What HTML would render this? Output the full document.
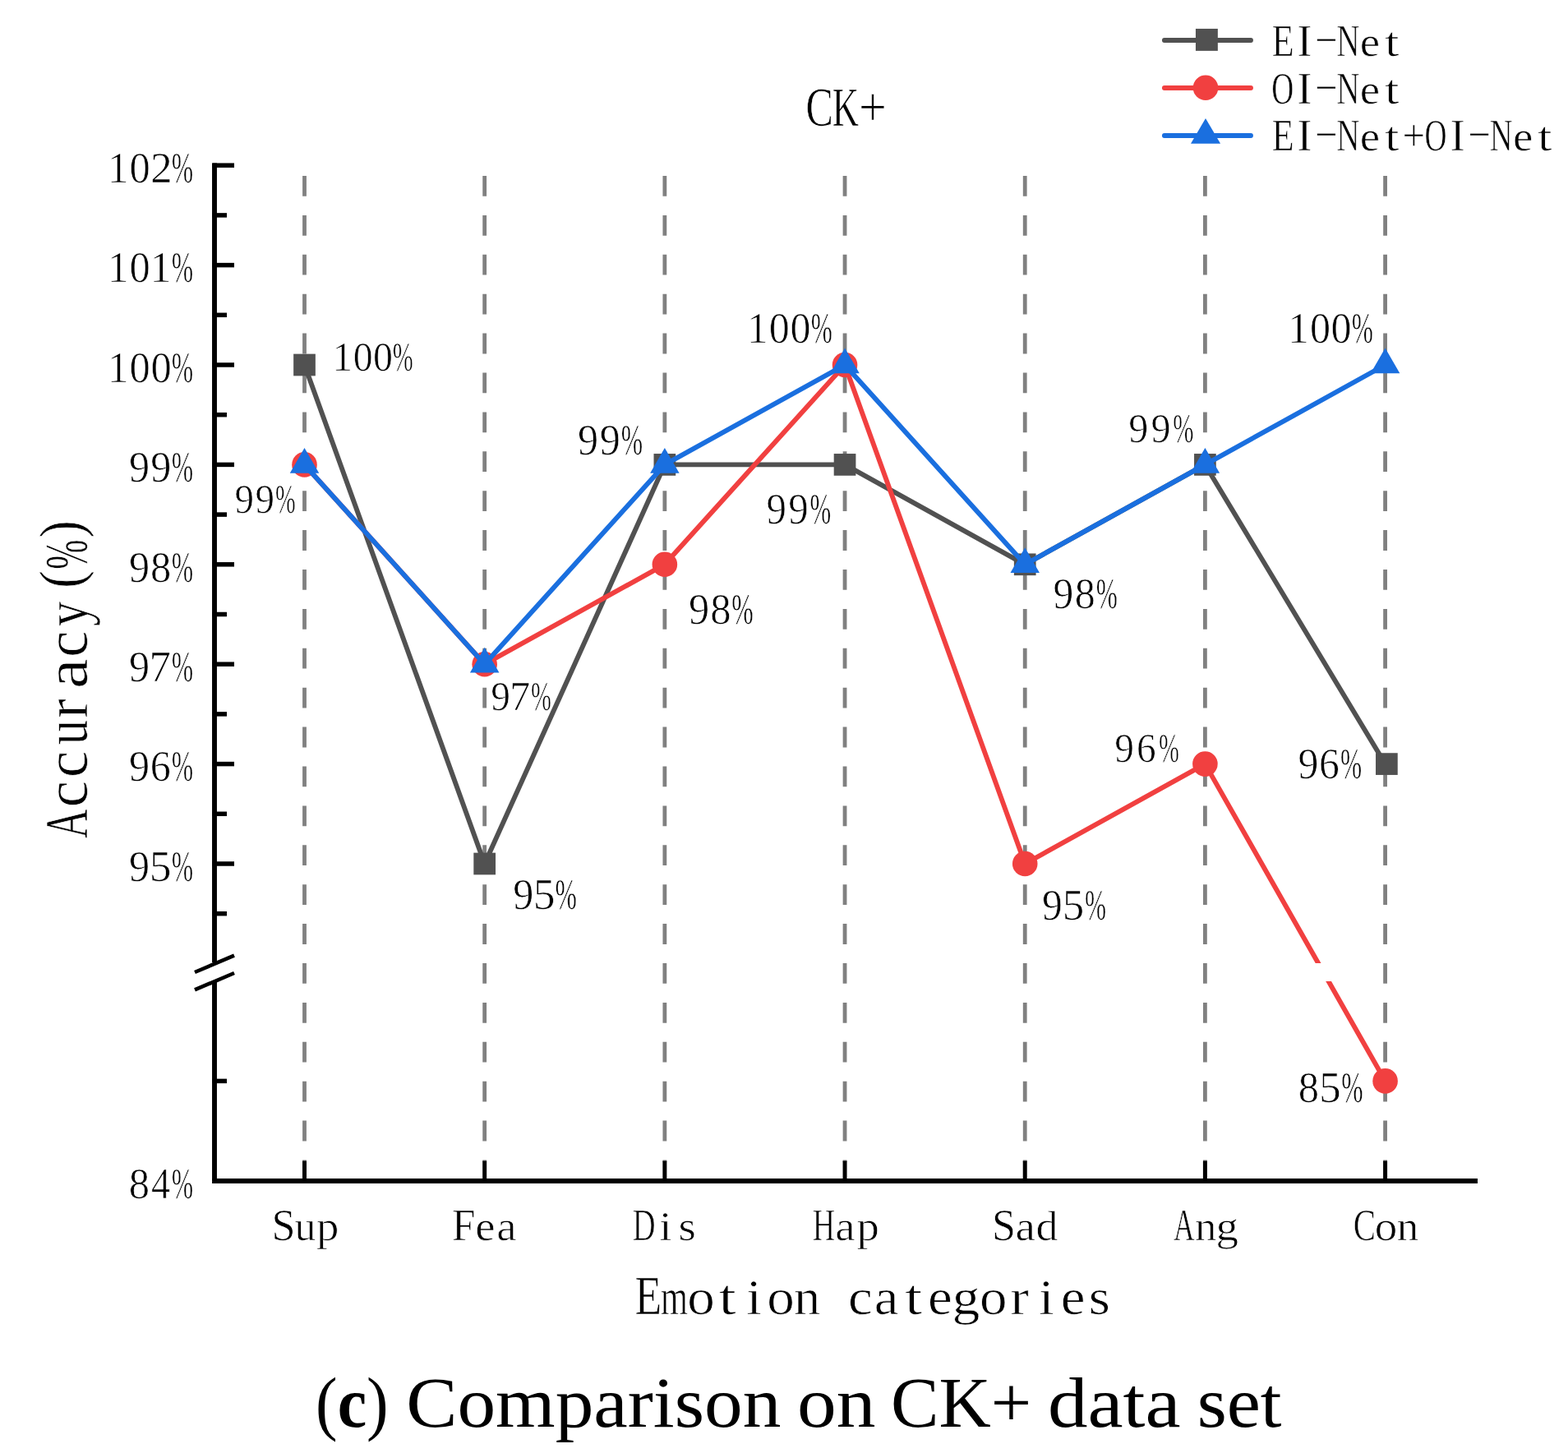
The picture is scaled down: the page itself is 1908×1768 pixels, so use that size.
<!DOCTYPE html><html><head><meta charset="utf-8"><title>Comparison on CK+ data set</title>
<style>html,body{margin:0;padding:0;background:#fff;}svg{display:block;}text{font-family:"Liberation Serif","Noto Serif CJK SC",serif;fill:#000;}text.t{stroke:#fff;stroke-width:0.7px;}</style></head><body>
<svg width="1908" height="1768" viewBox="0 0 1908 1768">
<rect width="1908" height="1768" fill="#fff"/>
<line x1="370.5" y1="214" x2="370.5" y2="1414" stroke="#808080" stroke-width="4.8" stroke-dasharray="24.8 23.1"/>
<line x1="589.68" y1="214" x2="589.68" y2="1414" stroke="#808080" stroke-width="4.8" stroke-dasharray="24.8 23.1"/>
<line x1="808.86" y1="214" x2="808.86" y2="1414" stroke="#808080" stroke-width="4.8" stroke-dasharray="24.8 23.1"/>
<line x1="1028.04" y1="214" x2="1028.04" y2="1414" stroke="#808080" stroke-width="4.8" stroke-dasharray="24.8 23.1"/>
<line x1="1247.22" y1="214" x2="1247.22" y2="1414" stroke="#808080" stroke-width="4.8" stroke-dasharray="24.8 23.1"/>
<line x1="1466.4" y1="214" x2="1466.4" y2="1414" stroke="#808080" stroke-width="4.8" stroke-dasharray="24.8 23.1"/>
<line x1="1685.58" y1="214" x2="1685.58" y2="1414" stroke="#808080" stroke-width="4.8" stroke-dasharray="24.8 23.1"/>
<g stroke="#000" stroke-width="5.9" fill="none">
<line x1="261" y1="198.4" x2="261" y2="1171"/>
<line x1="261" y1="1193" x2="261" y2="1437"/>
<line x1="258.05" y1="1437" x2="1798" y2="1437"/>
</g>
<g stroke="#000" stroke-width="5.5">
<line x1="258.5" y1="1051" x2="285" y2="1051"/>
<line x1="258.5" y1="929.6" x2="285" y2="929.6"/>
<line x1="258.5" y1="808.2" x2="285" y2="808.2"/>
<line x1="258.5" y1="686.8" x2="285" y2="686.8"/>
<line x1="258.5" y1="565.4" x2="285" y2="565.4"/>
<line x1="258.5" y1="444" x2="285" y2="444"/>
<line x1="258.5" y1="322.6" x2="285" y2="322.6"/>
<line x1="258.5" y1="201.2" x2="285" y2="201.2"/>
<line x1="258.5" y1="261.9" x2="276" y2="261.9"/>
<line x1="258.5" y1="383.3" x2="276" y2="383.3"/>
<line x1="258.5" y1="504.7" x2="276" y2="504.7"/>
<line x1="258.5" y1="626.1" x2="276" y2="626.1"/>
<line x1="258.5" y1="747.5" x2="276" y2="747.5"/>
<line x1="258.5" y1="868.9" x2="276" y2="868.9"/>
<line x1="258.5" y1="990.3" x2="276" y2="990.3"/>
<line x1="258.5" y1="1111.7" x2="276" y2="1111.7"/>
<line x1="258.5" y1="1315.4" x2="276" y2="1315.4"/>
</g>
<g stroke="#000" stroke-width="5">
<line x1="370.5" y1="1412.6" x2="370.5" y2="1437"/>
<line x1="589.68" y1="1412.6" x2="589.68" y2="1437"/>
<line x1="808.86" y1="1412.6" x2="808.86" y2="1437"/>
<line x1="1028.04" y1="1412.6" x2="1028.04" y2="1437"/>
<line x1="1247.22" y1="1412.6" x2="1247.22" y2="1437"/>
<line x1="1466.4" y1="1412.6" x2="1466.4" y2="1437"/>
<line x1="1685.58" y1="1412.6" x2="1685.58" y2="1437"/>
</g>
<g stroke="#000" stroke-width="4.6">
<line x1="237" y1="1183" x2="285" y2="1162.6"/>
<line x1="237" y1="1204.4" x2="285" y2="1184"/>
</g>
<polyline points="370.5,444 589.68,1051 808.86,565.4 1028.04,565.4 1247.22,686.8 1466.4,565.4 1685.58,929.6" fill="none" stroke="#515151" stroke-width="5.9" stroke-linejoin="round" stroke-linecap="round"/>
<rect x="357.15" y="430.65" width="26.7" height="26.7" fill="#515151"/>
<rect x="576.33" y="1037.65" width="26.7" height="26.7" fill="#515151"/>
<rect x="795.51" y="552.05" width="26.7" height="26.7" fill="#515151"/>
<rect x="1014.69" y="552.05" width="26.7" height="26.7" fill="#515151"/>
<rect x="1233.87" y="673.45" width="26.7" height="26.7" fill="#515151"/>
<rect x="1453.05" y="552.05" width="26.7" height="26.7" fill="#515151"/>
<rect x="1674.03" y="916.25" width="26.7" height="26.7" fill="#515151"/>
<polyline points="370.5,565.4 589.68,808.2 808.86,686.8 1028.04,444 1247.22,1051 1466.4,929.6" fill="none" stroke="#F14040" stroke-width="5.9" stroke-linejoin="round" stroke-linecap="round"/>
<clipPath id="gap"><rect x="0" y="0" width="1908" height="1172"/><rect x="0" y="1194" width="1908" height="600"/></clipPath>
<line x1="1466.4" y1="929.6" x2="1685.58" y2="1315.4" stroke="#F14040" stroke-width="5.9" stroke-linecap="round" clip-path="url(#gap)"/>
<circle cx="370.5" cy="565.4" r="15.3" fill="#F14040"/>
<circle cx="589.68" cy="808.2" r="15.3" fill="#F14040"/>
<circle cx="808.86" cy="686.8" r="15.3" fill="#F14040"/>
<circle cx="1028.04" cy="444" r="15.3" fill="#F14040"/>
<circle cx="1247.22" cy="1051" r="15.3" fill="#F14040"/>
<circle cx="1466.4" cy="929.6" r="15.3" fill="#F14040"/>
<circle cx="1685.58" cy="1315.4" r="15.3" fill="#F14040"/>
<polyline points="370.5,565.4 589.68,808.2 808.86,565.4 1028.04,444 1247.22,686.8 1466.4,565.4 1685.58,444" fill="none" stroke="#1A6FDF" stroke-width="5.9" stroke-linejoin="round" stroke-linecap="round"/>
<polygon points="370.5,544.9 352.75,575.65 388.25,575.65" fill="#1A6FDF"/>
<polygon points="589.68,787.7 571.93,818.45 607.43,818.45" fill="#1A6FDF"/>
<polygon points="808.86,544.9 791.11,575.65 826.61,575.65" fill="#1A6FDF"/>
<polygon points="1028.04,423.5 1010.29,454.25 1045.79,454.25" fill="#1A6FDF"/>
<polygon points="1247.22,666.3 1229.47,697.05 1264.97,697.05" fill="#1A6FDF"/>
<polygon points="1466.4,544.9 1448.65,575.65 1484.15,575.65" fill="#1A6FDF"/>
<polygon points="1685.58,423.5 1667.83,454.25 1703.33,454.25" fill="#1A6FDF"/>
<text class="t" y="1071.87" font-size="53.57"><tspan x="157.08" y="1071.87" textLength="25.11" lengthAdjust="spacingAndGlyphs">9</tspan><tspan x="181.85" y="1071.87">5</tspan><tspan x="208.71" y="1071.87" textLength="26.37" lengthAdjust="spacingAndGlyphs">%</tspan></text>
<text class="t" y="950.47" font-size="53.57"><tspan x="157.08" y="950.47" textLength="25.11" lengthAdjust="spacingAndGlyphs">9</tspan><tspan x="182.79" y="950.47" textLength="25.08" lengthAdjust="spacingAndGlyphs">6</tspan><tspan x="208.71" y="950.47" textLength="26.37" lengthAdjust="spacingAndGlyphs">%</tspan></text>
<text class="t" y="829.07" font-size="53.57"><tspan x="157.08" y="829.07" textLength="25.11" lengthAdjust="spacingAndGlyphs">9</tspan><tspan x="181.45" y="829.07" textLength="26.44" lengthAdjust="spacingAndGlyphs">7</tspan><tspan x="208.71" y="829.07" textLength="26.37" lengthAdjust="spacingAndGlyphs">%</tspan></text>
<text class="t" y="707.67" font-size="53.57"><tspan x="157.08" y="707.67" textLength="25.11" lengthAdjust="spacingAndGlyphs">9</tspan><tspan x="183.01" y="707.67" textLength="25.28" lengthAdjust="spacingAndGlyphs">8</tspan><tspan x="208.71" y="707.67" textLength="26.37" lengthAdjust="spacingAndGlyphs">%</tspan></text>
<text class="t" y="586.27" font-size="53.57"><tspan x="157.08" y="586.27" textLength="25.11" lengthAdjust="spacingAndGlyphs">9</tspan><tspan x="183.32" y="586.27" textLength="25.11" lengthAdjust="spacingAndGlyphs">9</tspan><tspan x="208.71" y="586.27" textLength="26.37" lengthAdjust="spacingAndGlyphs">%</tspan></text>
<text class="t" y="464.87" font-size="53.57"><tspan x="130.75" y="464.87" textLength="25.87" lengthAdjust="spacingAndGlyphs">1</tspan><tspan x="157.6" y="464.87" textLength="25.28" lengthAdjust="spacingAndGlyphs">0</tspan><tspan x="183.43" y="464.87" textLength="25.28" lengthAdjust="spacingAndGlyphs">0</tspan><tspan x="208.71" y="464.87" textLength="26.37" lengthAdjust="spacingAndGlyphs">%</tspan></text>
<text class="t" y="343.47" font-size="53.57"><tspan x="130.75" y="343.47" textLength="25.87" lengthAdjust="spacingAndGlyphs">1</tspan><tspan x="157.6" y="343.47" textLength="25.28" lengthAdjust="spacingAndGlyphs">0</tspan><tspan x="182.41" y="343.47" textLength="25.87" lengthAdjust="spacingAndGlyphs">1</tspan><tspan x="208.71" y="343.47" textLength="26.37" lengthAdjust="spacingAndGlyphs">%</tspan></text>
<text class="t" y="222.07" font-size="53.57"><tspan x="130.75" y="222.07" textLength="25.87" lengthAdjust="spacingAndGlyphs">1</tspan><tspan x="157.6" y="222.07" textLength="25.28" lengthAdjust="spacingAndGlyphs">0</tspan><tspan x="183" y="222.07">2</tspan><tspan x="208.71" y="222.07" textLength="26.37" lengthAdjust="spacingAndGlyphs">%</tspan></text>
<text class="t" y="1457.87" font-size="53.57"><tspan x="156.77" y="1457.87" textLength="25.28" lengthAdjust="spacingAndGlyphs">8</tspan><tspan x="184.04" y="1457.87" textLength="23.05" lengthAdjust="spacingAndGlyphs">4</tspan><tspan x="208.71" y="1457.87" textLength="26.37" lengthAdjust="spacingAndGlyphs">%</tspan></text>
<text class="t" y="450.59" font-size="50.74"><tspan x="404.49" y="450.59" textLength="24.5" lengthAdjust="spacingAndGlyphs">1</tspan><tspan x="429.76" y="450.59" textLength="23.95" lengthAdjust="spacingAndGlyphs">0</tspan><tspan x="454.06" y="450.59" textLength="23.95" lengthAdjust="spacingAndGlyphs">0</tspan><tspan x="477.84" y="450.59" textLength="24.98" lengthAdjust="spacingAndGlyphs">%</tspan></text>
<text class="t" y="624.1" font-size="50.15"><tspan x="285.49" y="624.1" textLength="23.5" lengthAdjust="spacingAndGlyphs">9</tspan><tspan x="310.6" y="624.1" textLength="23.5" lengthAdjust="spacingAndGlyphs">9</tspan><tspan x="334.92" y="624.1" textLength="24.69" lengthAdjust="spacingAndGlyphs">%</tspan></text>
<text class="t" y="1106.37" font-size="53.57"><tspan x="624.18" y="1106.37" textLength="25.11" lengthAdjust="spacingAndGlyphs">9</tspan><tspan x="648.85" y="1106.37">5</tspan><tspan x="675.61" y="1106.37" textLength="26.37" lengthAdjust="spacingAndGlyphs">%</tspan></text>
<text class="t" y="864.3" font-size="50.6"><tspan x="597.17" y="864.3" textLength="23.71" lengthAdjust="spacingAndGlyphs">9</tspan><tspan x="620.23" y="864.3" textLength="24.97" lengthAdjust="spacingAndGlyphs">7</tspan><tspan x="646.01" y="864.3" textLength="24.91" lengthAdjust="spacingAndGlyphs">%</tspan></text>
<text class="t" y="552.67" font-size="53.57"><tspan x="702.98" y="552.67" textLength="25.11" lengthAdjust="spacingAndGlyphs">9</tspan><tspan x="729.82" y="552.67" textLength="25.11" lengthAdjust="spacingAndGlyphs">9</tspan><tspan x="755.81" y="552.67" textLength="26.37" lengthAdjust="spacingAndGlyphs">%</tspan></text>
<text class="t" y="759.37" font-size="53.72"><tspan x="838.08" y="759.37" textLength="25.18" lengthAdjust="spacingAndGlyphs">9</tspan><tspan x="864.33" y="759.37" textLength="25.35" lengthAdjust="spacingAndGlyphs">8</tspan><tspan x="890.34" y="759.37" textLength="26.45" lengthAdjust="spacingAndGlyphs">%</tspan></text>
<text class="t" y="417.08" font-size="52.98"><tspan x="909" y="417.08" textLength="25.58" lengthAdjust="spacingAndGlyphs">1</tspan><tspan x="935.75" y="417.08" textLength="25" lengthAdjust="spacingAndGlyphs">0</tspan><tspan x="961.49" y="417.08" textLength="25" lengthAdjust="spacingAndGlyphs">0</tspan><tspan x="986.69" y="417.08" textLength="26.08" lengthAdjust="spacingAndGlyphs">%</tspan></text>
<text class="t" y="637.28" font-size="52.23"><tspan x="932.42" y="637.28" textLength="24.48" lengthAdjust="spacingAndGlyphs">9</tspan><tspan x="959.35" y="637.28" textLength="24.48" lengthAdjust="spacingAndGlyphs">9</tspan><tspan x="985.44" y="637.28" textLength="25.72" lengthAdjust="spacingAndGlyphs">%</tspan></text>
<text class="t" y="740.48" font-size="52.98"><tspan x="1281.5" y="740.48" textLength="24.83" lengthAdjust="spacingAndGlyphs">9</tspan><tspan x="1307.76" y="740.48" textLength="25" lengthAdjust="spacingAndGlyphs">8</tspan><tspan x="1333.79" y="740.48" textLength="26.08" lengthAdjust="spacingAndGlyphs">%</tspan></text>
<text class="t" y="1119.38" font-size="52.98"><tspan x="1267.9" y="1119.38" textLength="24.83" lengthAdjust="spacingAndGlyphs">9</tspan><tspan x="1292.86" y="1119.38">5</tspan><tspan x="1319.89" y="1119.38" textLength="26.08" lengthAdjust="spacingAndGlyphs">%</tspan></text>
<text class="t" y="537.99" font-size="51.34"><tspan x="1373.25" y="537.99" textLength="24.06" lengthAdjust="spacingAndGlyphs">9</tspan><tspan x="1400.61" y="537.99" textLength="24.06" lengthAdjust="spacingAndGlyphs">9</tspan><tspan x="1427.16" y="537.99" textLength="25.28" lengthAdjust="spacingAndGlyphs">%</tspan></text>
<text class="t" y="926.6" font-size="50.6"><tspan x="1356.17" y="926.6" textLength="23.71" lengthAdjust="spacingAndGlyphs">9</tspan><tspan x="1382.94" y="926.6" textLength="23.68" lengthAdjust="spacingAndGlyphs">6</tspan><tspan x="1409.91" y="926.6" textLength="24.91" lengthAdjust="spacingAndGlyphs">%</tspan></text>
<text class="t" y="417.07" font-size="53.12"><tspan x="1567.29" y="417.07" textLength="25.65" lengthAdjust="spacingAndGlyphs">1</tspan><tspan x="1593.95" y="417.07" textLength="25.07" lengthAdjust="spacingAndGlyphs">0</tspan><tspan x="1619.61" y="417.07" textLength="25.07" lengthAdjust="spacingAndGlyphs">0</tspan><tspan x="1644.72" y="417.07" textLength="26.15" lengthAdjust="spacingAndGlyphs">%</tspan></text>
<text class="t" y="947.28" font-size="53.13"><tspan x="1579.4" y="947.28" textLength="24.9" lengthAdjust="spacingAndGlyphs">9</tspan><tspan x="1605.05" y="947.28" textLength="24.87" lengthAdjust="spacingAndGlyphs">6</tspan><tspan x="1630.92" y="947.28" textLength="26.15" lengthAdjust="spacingAndGlyphs">%</tspan></text>
<text class="t" y="1341.47" font-size="53.57"><tspan x="1579.67" y="1341.47" textLength="25.28" lengthAdjust="spacingAndGlyphs">8</tspan><tspan x="1605.1" y="1341.47">5</tspan><tspan x="1632.31" y="1341.47" textLength="26.37" lengthAdjust="spacingAndGlyphs">%</tspan></text>
<text class="t" y="1509.3" font-size="55"><tspan x="330.38" y="1509.3" textLength="28.98" lengthAdjust="spacingAndGlyphs">S</tspan><tspan x="358.63" y="1509.3" font-size="51.15" textLength="25.95" lengthAdjust="spacingAndGlyphs">u</tspan><tspan x="384.93" y="1509.3" font-size="51.15" textLength="27.4" lengthAdjust="spacingAndGlyphs">p</tspan></text>
<text class="t" y="1509.3" font-size="55"><tspan x="550.12" y="1509.3" textLength="28.5" lengthAdjust="spacingAndGlyphs">F</tspan><tspan x="578.35" y="1509.3" font-size="51.15" textLength="24.41" lengthAdjust="spacingAndGlyphs">e</tspan><tspan x="604.38" y="1509.3" font-size="51.15" textLength="24.41" lengthAdjust="spacingAndGlyphs">a</tspan></text>
<text class="t" y="1509.3" font-size="55"><tspan x="769.66" y="1509.3" textLength="27.83" lengthAdjust="spacingAndGlyphs">D</tspan><tspan x="802.17" y="1509.3" font-size="51.15" textLength="15.28" lengthAdjust="spacingAndGlyphs">i</tspan><tspan x="825.52" y="1509.3" font-size="51.15" textLength="21.4" lengthAdjust="spacingAndGlyphs">s</tspan></text>
<text class="t" y="1509.3" font-size="55"><tspan x="988.86" y="1509.3" textLength="27.38" lengthAdjust="spacingAndGlyphs">H</tspan><tspan x="1016.24" y="1509.3" font-size="51.15" textLength="24.41" lengthAdjust="spacingAndGlyphs">a</tspan><tspan x="1042.47" y="1509.3" font-size="51.15" textLength="27.4" lengthAdjust="spacingAndGlyphs">p</tspan></text>
<text class="t" y="1509.3" font-size="55"><tspan x="1207.1" y="1509.3" textLength="28.98" lengthAdjust="spacingAndGlyphs">S</tspan><tspan x="1235.42" y="1509.3" font-size="51.15" textLength="24.41" lengthAdjust="spacingAndGlyphs">a</tspan><tspan x="1260.58" y="1509.3" font-size="51.15" textLength="26.99" lengthAdjust="spacingAndGlyphs">d</tspan></text>
<text class="t" y="1509.3" font-size="55"><tspan x="1428.1" y="1509.3" textLength="25.51" lengthAdjust="spacingAndGlyphs">A</tspan><tspan x="1454" y="1509.3" font-size="51.15" textLength="26.39" lengthAdjust="spacingAndGlyphs">n</tspan><tspan x="1479.49" y="1509.3" font-size="51.15" textLength="27.5" lengthAdjust="spacingAndGlyphs">g</tspan></text>
<text class="t" y="1509.3" font-size="55"><tspan x="1646.74" y="1509.3" textLength="27.25" lengthAdjust="spacingAndGlyphs">C</tspan><tspan x="1672.83" y="1509.3" font-size="51.15" textLength="27.5" lengthAdjust="spacingAndGlyphs">o</tspan><tspan x="1699.68" y="1509.3" font-size="51.15" textLength="26.39" lengthAdjust="spacingAndGlyphs">n</tspan></text>
<text class="t" y="1598.8" font-size="67"><tspan x="772.53" y="1598.8" textLength="32.66" lengthAdjust="spacingAndGlyphs">E</tspan><tspan x="804.07" y="1598.8" font-size="62.31" textLength="32.92" lengthAdjust="spacingAndGlyphs">m</tspan><tspan x="836.23" y="1598.8" font-size="62.31" textLength="33.5" lengthAdjust="spacingAndGlyphs">o</tspan><tspan x="874.55" y="1598.8" font-size="62.31" textLength="21.25" lengthAdjust="spacingAndGlyphs">t</tspan><tspan x="908.29" y="1598.8" font-size="62.31" textLength="18.61" lengthAdjust="spacingAndGlyphs">i</tspan><tspan x="933.25" y="1598.8" font-size="62.31" textLength="33.5" lengthAdjust="spacingAndGlyphs">o</tspan><tspan x="965.99" y="1598.8" font-size="62.31" textLength="32.21" lengthAdjust="spacingAndGlyphs">n</tspan><tspan x="1006.3" y="1598.8"> </tspan><tspan x="1031.91" y="1598.8" font-size="62.31" textLength="29.74" lengthAdjust="spacingAndGlyphs">c</tspan><tspan x="1063.77" y="1598.8" font-size="62.31" textLength="29.74" lengthAdjust="spacingAndGlyphs">a</tspan><tspan x="1100.93" y="1598.8" font-size="62.31" textLength="21.25" lengthAdjust="spacingAndGlyphs">t</tspan><tspan x="1129.02" y="1598.8" font-size="62.31" textLength="29.74" lengthAdjust="spacingAndGlyphs">e</tspan><tspan x="1158.83" y="1598.8" font-size="62.31" textLength="33.5" lengthAdjust="spacingAndGlyphs">g</tspan><tspan x="1191.97" y="1598.8" font-size="62.31" textLength="33.5" lengthAdjust="spacingAndGlyphs">o</tspan><tspan x="1229.53" y="1598.8" font-size="62.31" textLength="22.31" lengthAdjust="spacingAndGlyphs">r</tspan><tspan x="1264.03" y="1598.8" font-size="62.31" textLength="18.61" lengthAdjust="spacingAndGlyphs">i</tspan><tspan x="1290.72" y="1598.8" font-size="62.31" textLength="29.74" lengthAdjust="spacingAndGlyphs">e</tspan><tspan x="1324.88" y="1598.8" font-size="62.31" textLength="26.07" lengthAdjust="spacingAndGlyphs">s</tspan></text>
<text class="t" y="152.6" font-size="66.7"><tspan x="980.54" y="152.6" textLength="33.42" lengthAdjust="spacingAndGlyphs">C</tspan><tspan x="1012.84" y="152.6" textLength="32.3" lengthAdjust="spacingAndGlyphs">K</tspan><tspan x="1044.93" y="152.6" textLength="33.87" lengthAdjust="spacingAndGlyphs">+</tspan></text>
<g transform="rotate(-90)"><text class="t" y="106" font-size="75"><tspan x="-1020.03" y="106" textLength="35.34" lengthAdjust="spacingAndGlyphs">A</tspan><tspan x="-982.54" y="106" textLength="32.55" lengthAdjust="spacingAndGlyphs">c</tspan><tspan x="-946.14" y="106" textLength="32.55" lengthAdjust="spacingAndGlyphs">c</tspan><tspan x="-906.35" y="106" textLength="30.34" lengthAdjust="spacingAndGlyphs">u</tspan><tspan x="-873.71" y="106" textLength="23.43" lengthAdjust="spacingAndGlyphs">r</tspan><tspan x="-838.1" y="106" textLength="36.63" lengthAdjust="spacingAndGlyphs">a</tspan><tspan x="-799.8" y="106" textLength="32.08" lengthAdjust="spacingAndGlyphs">c</tspan><tspan x="-761.94" y="106" textLength="30.17" lengthAdjust="spacingAndGlyphs">y</tspan><tspan x="-734.38" y="106"> </tspan><tspan x="-715.91" y="98.5" textLength="22.04" lengthAdjust="spacingAndGlyphs">(</tspan><tspan x="-692.84" y="106" textLength="36.28" lengthAdjust="spacingAndGlyphs">%</tspan><tspan x="-654.68" y="98.5" textLength="21.52" lengthAdjust="spacingAndGlyphs">)</tspan></text></g>
<line x1="1416.9" y1="49" x2="1522" y2="49" stroke="#515151" stroke-width="5.9" stroke-linecap="round"/>
<rect x="1454.95" y="34.95" width="26.9" height="26.9" fill="#515151"/>
<text class="t" y="67.6" font-size="55"><tspan x="1547.83" y="67.6" textLength="26.87" lengthAdjust="spacingAndGlyphs">E</tspan><tspan x="1578.22" y="67.6">I</tspan><tspan x="1598.61" y="57.87" font-size="37.4" textLength="30.69" lengthAdjust="spacingAndGlyphs">-</tspan><tspan x="1626.59" y="67.6" textLength="27.79" lengthAdjust="spacingAndGlyphs">N</tspan><tspan x="1654.87" y="67.6" font-size="51.15" textLength="24.41" lengthAdjust="spacingAndGlyphs">e</tspan><tspan x="1684.94" y="67.6" font-size="51.15" textLength="17.47" lengthAdjust="spacingAndGlyphs">t</tspan></text>
<line x1="1416.9" y1="107" x2="1522" y2="107" stroke="#F14040" stroke-width="5.9" stroke-linecap="round"/>
<circle cx="1467" cy="106.7" r="15.3" fill="#F14040"/>
<text class="t" y="125.6" font-size="55"><tspan x="1547.3" y="125.6" textLength="27.01" lengthAdjust="spacingAndGlyphs">O</tspan><tspan x="1578.22" y="125.6">I</tspan><tspan x="1598.61" y="115.87" font-size="37.4" textLength="30.69" lengthAdjust="spacingAndGlyphs">-</tspan><tspan x="1626.59" y="125.6" textLength="27.79" lengthAdjust="spacingAndGlyphs">N</tspan><tspan x="1654.87" y="125.6" font-size="51.15" textLength="24.41" lengthAdjust="spacingAndGlyphs">e</tspan><tspan x="1684.94" y="125.6" font-size="51.15" textLength="17.47" lengthAdjust="spacingAndGlyphs">t</tspan></text>
<line x1="1416.9" y1="165" x2="1522" y2="165" stroke="#1A6FDF" stroke-width="5.9" stroke-linecap="round"/>
<polygon points="1467,144 1449,174.8 1485.1,174.8" fill="#1A6FDF"/>
<text class="t" y="183" font-size="55"><tspan x="1547.83" y="183" textLength="26.87" lengthAdjust="spacingAndGlyphs">E</tspan><tspan x="1578.22" y="183">I</tspan><tspan x="1598.61" y="173.27" font-size="37.4" textLength="30.69" lengthAdjust="spacingAndGlyphs">-</tspan><tspan x="1626.59" y="183" textLength="27.79" lengthAdjust="spacingAndGlyphs">N</tspan><tspan x="1654.87" y="183" font-size="51.15" textLength="24.41" lengthAdjust="spacingAndGlyphs">e</tspan><tspan x="1684.94" y="183" font-size="51.15" textLength="17.47" lengthAdjust="spacingAndGlyphs">t</tspan><tspan x="1706.51" y="183" textLength="27.72" lengthAdjust="spacingAndGlyphs">+</tspan><tspan x="1733.5" y="183" textLength="27.01" lengthAdjust="spacingAndGlyphs">O</tspan><tspan x="1764.42" y="183">I</tspan><tspan x="1784.81" y="173.27" font-size="37.4" textLength="30.69" lengthAdjust="spacingAndGlyphs">-</tspan><tspan x="1812.79" y="183" textLength="27.79" lengthAdjust="spacingAndGlyphs">N</tspan><tspan x="1841.07" y="183" font-size="51.15" textLength="24.41" lengthAdjust="spacingAndGlyphs">e</tspan><tspan x="1871.14" y="183" font-size="51.15" textLength="17.47" lengthAdjust="spacingAndGlyphs">t</tspan></text>
<text class="c" y="1735.5" font-size="87"><tspan x="384.09" textLength="26.59" lengthAdjust="spacingAndGlyphs">(</tspan><tspan x="410.68" textLength="35.44" lengthAdjust="spacingAndGlyphs" font-weight="bold">c</tspan><tspan x="446.12" textLength="26.59" lengthAdjust="spacingAndGlyphs">)</tspan><tspan x="478"> </tspan><tspan x="494.17" textLength="456.24" lengthAdjust="spacingAndGlyphs">Comparison</tspan><tspan x="953.7"> </tspan><tspan x="970.07" textLength="95.38" lengthAdjust="spacingAndGlyphs">on</tspan><tspan x="1067.7"> </tspan><tspan x="1084.11" textLength="171.07" lengthAdjust="spacingAndGlyphs">CK+</tspan><tspan x="1258.5"> </tspan><tspan x="1274.99" textLength="161.63" lengthAdjust="spacingAndGlyphs">data</tspan><tspan x="1440.5"> </tspan><tspan x="1456.7" textLength="102.84" lengthAdjust="spacingAndGlyphs">set</tspan></text>
</svg></body></html>
